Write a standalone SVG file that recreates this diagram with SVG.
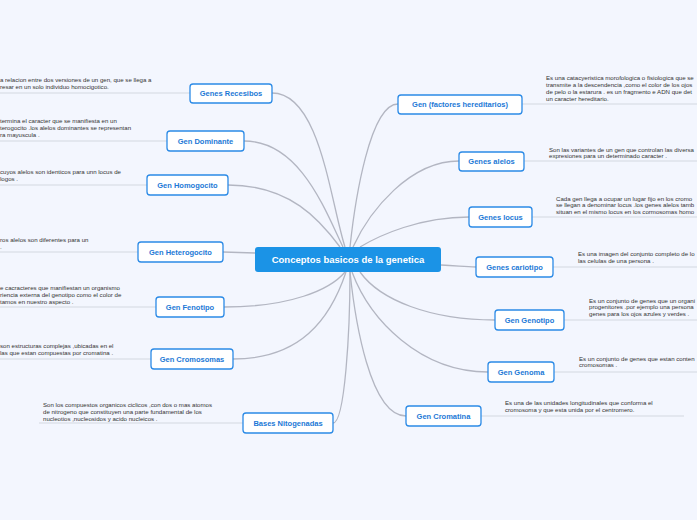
<svg xmlns="http://www.w3.org/2000/svg" width="697" height="520" viewBox="0 0 697 520">
<style>
.bg{fill:#f3f6fe}
.n rect{fill:#fff;stroke:#2b8ae6;stroke-width:1.3}
.n text{font-family:"Liberation Sans",Arial,sans-serif;font-size:7.5px;font-weight:bold;fill:#1c79d6;text-anchor:middle}
.c path{fill:none;stroke:#b3b6c2;stroke-width:1.3}
.c line{stroke:#d4d7df;stroke-width:1.2}
.d{font-family:"Liberation Sans",Arial,sans-serif;font-size:6.1px;fill:#333}
</style>
<rect class="bg" width="697" height="520"/>
<g class="c">
<path d="M272,93 C320,93 330,200 345,247"/>
<path d="M244,141 C300,141 325,210 343,247"/>
<path d="M228,185 C290,185 320,220 340,247"/>
<path d="M223,252 L255,253"/>
<path d="M224,307 C290,307 330,290 345,272"/>
<path d="M233,359 C300,359 330,320 346,272"/>
<path d="M333,423 C345,423 350,330 350,272"/>
<path d="M398,104 C370,104 355,200 350,247"/>
<path d="M459,161 C410,161 370,210 353,247"/>
<path d="M469,217 C420,217 380,235 360,247"/>
<path d="M441,265 C460,266 465,267 476,267"/>
<path d="M495,320 C430,320 380,300 360,272"/>
<path d="M488,372 C420,372 370,320 352,272"/>
<path d="M406,416 C370,416 355,320 350,272"/>
<line x1="0" y1="93" x2="190" y2="93"/>
<line x1="0" y1="141" x2="167" y2="141"/>
<line x1="0" y1="185" x2="147" y2="185"/>
<line x1="0" y1="252" x2="138" y2="252"/>
<line x1="0" y1="307" x2="156" y2="307"/>
<line x1="0" y1="359" x2="151" y2="359"/>
<line x1="39" y1="423" x2="243" y2="423"/>
<line x1="522" y1="104" x2="697" y2="104"/>
<line x1="524" y1="161" x2="697" y2="161"/>
<line x1="532" y1="217" x2="697" y2="217"/>
<line x1="553" y1="267" x2="697" y2="267"/>
<line x1="564" y1="320" x2="697" y2="320"/>
<line x1="554" y1="372" x2="697" y2="372"/>
<line x1="481" y1="416" x2="684" y2="416"/>
</g>
<g id="center"><rect x="255" y="247" width="186" height="25" rx="3" fill="#1b93e6"/><text x="348" y="263" font-family="Liberation Sans,Arial,sans-serif" font-size="9.5" font-weight="bold" fill="#fff" text-anchor="middle">Conceptos basicos de la genetica</text></g>
<g id="n1" class="n"><rect x="190" y="84" width="82" height="19" rx="3"/><text x="231" y="96">Genes Recesibos</text></g>
<g id="n2" class="n"><rect x="167" y="131" width="77" height="20" rx="3"/><text x="205.5" y="144">Gen Dominante</text></g>
<g id="n3" class="n"><rect x="147" y="175" width="81" height="20" rx="3"/><text x="187.5" y="188">Gen Homogocito</text></g>
<g id="n4" class="n"><rect x="138" y="242" width="85" height="20" rx="3"/><text x="180.5" y="255">Gen Heterogocito</text></g>
<g id="n5" class="n"><rect x="156" y="297" width="68" height="20" rx="3"/><text x="190" y="310">Gen Fenotipo</text></g>
<g id="n6" class="n"><rect x="151" y="349" width="82" height="20" rx="3"/><text x="192" y="362">Gen Cromosomas</text></g>
<g id="n7" class="n"><rect x="243" y="413" width="90" height="20" rx="3"/><text x="288" y="426">Bases Nitogenadas</text></g>
<g id="n8" class="n"><rect x="398" y="95" width="124" height="19" rx="3"/><text x="460" y="107">Gen (factores hereditarios)</text></g>
<g id="n9" class="n"><rect x="459" y="152" width="65" height="19" rx="3"/><text x="491.5" y="164">Genes alelos</text></g>
<g id="n10" class="n"><rect x="469" y="207" width="63" height="20" rx="3"/><text x="500.5" y="220">Genes locus</text></g>
<g id="n11" class="n"><rect x="476" y="257" width="77" height="20" rx="3"/><text x="514.5" y="270">Genes cariotipo</text></g>
<g id="n12" class="n"><rect x="495" y="310" width="69" height="20" rx="3"/><text x="529.5" y="323">Gen Genotipo</text></g>
<g id="n13" class="n"><rect x="488" y="362" width="66" height="20" rx="3"/><text x="521" y="375">Gen Genoma</text></g>
<g id="n14" class="n"><rect x="406" y="406" width="75" height="20" rx="3"/><text x="443.5" y="419">Gen Cromatina</text></g>
<g class="d">
<text x="0" y="82">a relacion entre dos versiones de un gen, que se llega a</text>
<text x="0" y="89">resar en un solo individuo homocigotico.</text>
<text x="0" y="123">termina el caracter que se manifiesta en un</text>
<text x="0" y="130">terogocito .los alelos dominantes se representan</text>
<text x="0" y="137">ra mayuscula .</text>
<text x="0" y="174">cuyos alelos son identicos para unn locus de</text>
<text x="0" y="181">logos .</text>
<text x="0" y="242">ros alelos son diferentes  para un</text>
<text x="0" y="249">.</text>
<text x="0" y="290">e cacracteres que manifiestan un organismo</text>
<text x="0" y="297">riencia externa del genotipo como el color de</text>
<text x="0" y="304">tamos en nuestro aspecto .</text>
<text x="0" y="348">son estructuras complejas ,ubicadas en el</text>
<text x="0" y="355">las que estan compuestas por cromatina .</text>
<text x="43" y="407">Son los compuestos organicos ciclicos ,con dos o mas atomos</text>
<text x="43" y="414">de nitrogeno que constituyen una parte fundamental de los</text>
<text x="43" y="421">nucleotios ,nucleosidos y acido nucleicos .</text>
<text x="546" y="80">Es una catacyeristica morofologica o fisiologica que se</text>
<text x="546" y="87">transmite a la descendencia ,como el color de los ojos</text>
<text x="546" y="94">de pelo o la estarura . es un fragmento e ADN que det</text>
<text x="546" y="101">un caracter hereditario.</text>
<text x="549" y="152">Son las variantes de un gen que controlan las diversa</text>
<text x="549" y="158">expresiones para un determinado caracter .</text>
<text x="556" y="201">Cada gen llega a ocupar un lugar fijo en los cromo</text>
<text x="556" y="207">se llegan a denominar locus .los genes alelos tamb</text>
<text x="556" y="214">situan en el mismo locus en los cormosomas homo</text>
<text x="578" y="256">Es una imagen del conjunto completo de lo</text>
<text x="578" y="263">las celulas de una persona .</text>
<text x="589" y="303">Es un conjunto de genes que un organi</text>
<text x="589" y="309">progenitores .por ejemplo una persona</text>
<text x="589" y="316">genes para los ojos azules y verdes .</text>
<text x="579" y="361">Es un conjunto de genes que estan conten</text>
<text x="579" y="367">cromosomas .</text>
<text x="505" y="405">Es una de las unidades longitudinales que conforma el</text>
<text x="505" y="412">cromosoma y que esta unida por el centromero.</text>
</g>
</svg>
